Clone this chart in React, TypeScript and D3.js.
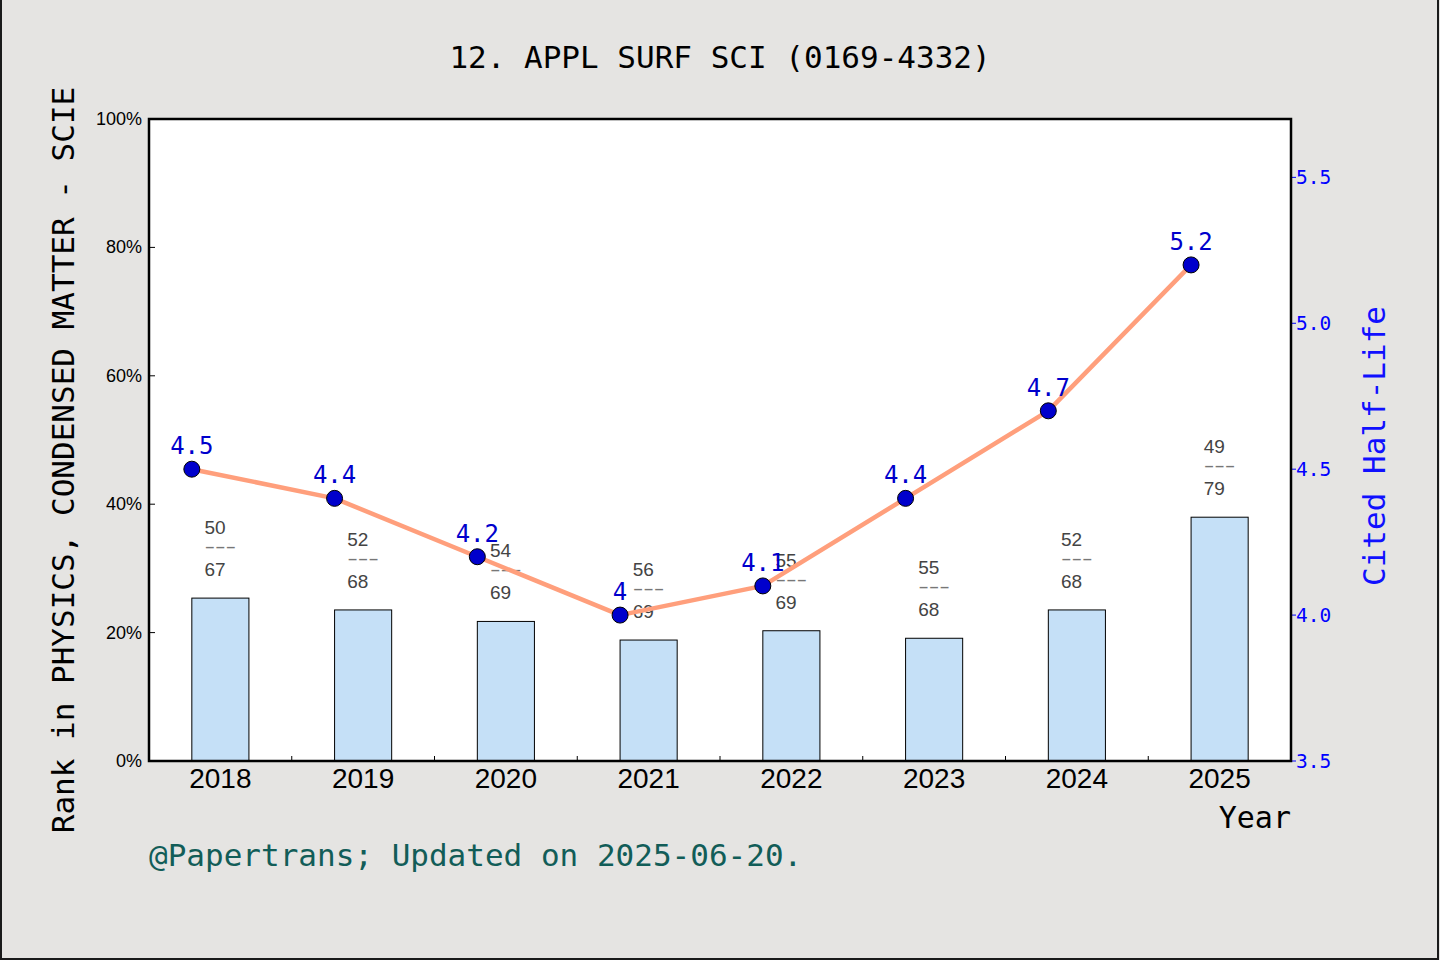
import { useEffect, useRef } from 'react'
import * as d3 from 'd3'

const years = ['2018', '2019', '2020', '2021', '2022', '2023', '2024', '2025']
const ranks = [50, 52, 54, 56, 55, 55, 52, 49]
const totals = [67, 68, 69, 69, 69, 68, 68, 79]
const halfLife = [4.5, 4.4, 4.2, 4.0, 4.1, 4.4, 4.7, 5.2]
const halfLifeLabels = ['4.5', '4.4', '4.2', '4', '4.1', '4.4', '4.7', '5.2']
const leftTicks = [0, 20, 40, 60, 80, 100]
const rightTicks = [3.5, 4.0, 4.5, 5.0, 5.5]

const W = 1440
const H = 960
const margin = { top: 119, right: 149, bottom: 199, left: 149 }

const MONO = '"DejaVu Sans Mono", monospace'
const SANS = '"Liberation Sans", Arial, sans-serif'

export default function App() {
  const svgRef = useRef<SVGSVGElement>(null)

  useEffect(() => {
    if (!svgRef.current) return
    const svg = d3.select(svgRef.current)
    svg.selectAll('*').remove()

    const innerW = W - margin.left - margin.right
    const innerH = H - margin.top - margin.bottom
    const x0 = margin.left
    const y0 = margin.top
    const x1 = x0 + innerW
    const y1 = y0 + innerH

    // figure background + outer frame
    svg.append('rect').attr('width', W).attr('height', H).attr('fill', '#e5e4e2')
    svg.append('path')
      .attr('d', `M1,0 V${H - 1} H${W - 2} V0`)
      .attr('fill', 'none')
      .attr('stroke', '#1a1a1a')
      .attr('stroke-width', 2)

    svg.append('rect')
      .attr('x', x0).attr('y', y0)
      .attr('width', innerW).attr('height', innerH)
      .attr('fill', '#ffffff')

    const xScale = d3.scaleBand().domain(years).range([x0, x1]).padding(0)
    const yLeft = d3.scaleLinear().domain([0, 100]).range([y1, y0])
    const yRight = d3.scaleLinear().domain([3.5, 5.7]).range([y1, y0])

    const barW = xScale.bandwidth() * 0.4
    const cx = (d: string) => (xScale(d) || 0) + xScale.bandwidth() / 2
    // line points sit on the left edge of each bar
    const lx = (d: string) => cx(d) - barW / 2

    const barData = years.map((year, i) => ({
      year,
      rank: ranks[i],
      total: totals[i],
      pct: ((totals[i] - ranks[i]) / totals[i]) * 100
    }))

    // bars
    svg.append('g')
      .selectAll('rect')
      .data(barData)
      .enter().append('rect')
      .attr('x', d => cx(d.year) - barW / 2)
      .attr('y', d => yLeft(d.pct))
      .attr('width', barW)
      .attr('height', d => y1 - yLeft(d.pct))
      .attr('fill', '#c5e0f7')
      .attr('stroke', '#000')
      .attr('stroke-width', 1)

    // rank / total labels above bars
    const rl = svg.append('g')
    barData.forEach(d => {
      const top = yLeft(d.pct)
      const tx = cx(d.year) - 16
      rl.append('text')
        .attr('x', tx).attr('y', top - 64)
        .style('font-family', SANS).style('font-size', '19px').style('fill', '#444')
        .text(String(d.rank))
      rl.append('text')
        .attr('transform', `translate(${tx},${top - 45}) scale(1.68,1)`)
        .style('font-family', SANS).style('font-size', '19px').style('fill', '#777')
        .text('---')
      rl.append('text')
        .attr('x', tx).attr('y', top - 22)
        .style('font-family', SANS).style('font-size', '19px').style('fill', '#444')
        .text(String(d.total))
    })

    // half-life line
    const pts = years.map((year, i) => ({ year, v: halfLife[i], label: halfLifeLabels[i] }))
    const line = d3.line<{ year: string; v: number }>()
      .x(d => lx(d.year))
      .y(d => yRight(d.v))
    svg.append('path')
      .datum(pts)
      .attr('d', line)
      .attr('fill', 'none')
      .attr('stroke', '#ff9f7c')
      .attr('stroke-width', 4.5)
      .attr('stroke-linejoin', 'round')

    svg.append('g')
      .selectAll('circle')
      .data(pts)
      .enter().append('circle')
      .attr('cx', d => lx(d.year))
      .attr('cy', d => yRight(d.v))
      .attr('r', 8)
      .attr('fill', '#0000cc')
      .attr('stroke', '#000')
      .attr('stroke-width', 1)

    svg.append('g')
      .selectAll('text')
      .data(pts)
      .enter().append('text')
      .attr('x', d => lx(d.year))
      .attr('y', d => yRight(d.v) - 15)
      .attr('text-anchor', 'middle')
      .style('font-family', MONO)
      .style('font-size', '24px')
      .style('fill', '#0000cc')
      .text(d => d.label)

    // left axis ticks + labels
    const la = svg.append('g')
    leftTicks.forEach(t => {
      la.append('line')
        .attr('x1', x0).attr('x2', x0 + 6)
        .attr('y1', yLeft(t)).attr('y2', yLeft(t))
        .attr('stroke', '#000').attr('stroke-width', 1)
      la.append('text')
        .attr('x', x0 - 7).attr('y', yLeft(t) + 6)
        .attr('text-anchor', 'end')
        .style('font-family', SANS).style('font-size', '18px').style('fill', '#000')
        .text(`${t}%`)
    })

    // right axis ticks + labels
    const ra = svg.append('g')
    rightTicks.forEach(t => {
      ra.append('line')
        .attr('x1', x1).attr('x2', x1 + 5)
        .attr('y1', yRight(t)).attr('y2', yRight(t))
        .attr('stroke', '#0000ff').attr('stroke-width', 1)
      ra.append('text')
        .attr('x', x1 + 5).attr('y', yRight(t) + 7)
        .style('font-family', MONO).style('font-size', '19.5px').style('fill', '#0000ff')
        .text(t.toFixed(1))
    })

    // x axis: minor ticks at band edges, year labels
    const xa = svg.append('g')
    years.slice(1).forEach(y => {
      const bx = xScale(y) || 0
      xa.append('line')
        .attr('x1', bx).attr('x2', bx)
        .attr('y1', y1).attr('y2', y1 - 5)
        .attr('stroke', '#000').attr('stroke-width', 1)
    })
    years.forEach(y => {
      xa.append('text')
        .attr('x', cx(y)).attr('y', y1 + 27)
        .attr('text-anchor', 'middle')
        .style('font-family', SANS).style('font-size', '28px').style('fill', '#000')
        .text(y)
    })

    // spines
    svg.append('rect')
      .attr('x', x0).attr('y', y0)
      .attr('width', innerW).attr('height', innerH)
      .attr('fill', 'none')
      .attr('stroke', '#000')
      .attr('stroke-width', 2.5)

    // titles
    svg.append('text')
      .attr('x', W / 2).attr('y', 68)
      .attr('text-anchor', 'middle')
      .style('font-family', MONO).style('font-size', '31px').style('fill', '#000')
      .text('12. APPL SURF SCI (0169-4332)')

    svg.append('text')
      .attr('transform', `translate(74,${(y0 + y1) / 2 + 20}) rotate(-90)`)
      .attr('text-anchor', 'middle')
      .style('font-family', MONO).style('font-size', '31px').style('fill', '#000')
      .text('Rank in PHYSICS, CONDENSED MATTER - SCIE')

    svg.append('text')
      .attr('transform', `translate(1385,${(y0 + y1) / 2 + 6}) rotate(-90)`)
      .attr('text-anchor', 'middle')
      .style('font-family', MONO).style('font-size', '31px').style('fill', '#1010ff')
      .text('Cited Half-Life')

    svg.append('text')
      .attr('x', x1).attr('y', 828)
      .attr('text-anchor', 'end')
      .style('font-family', MONO).style('font-size', '30px').style('fill', '#000')
      .text('Year')

    svg.append('text')
      .attr('x', 149).attr('y', 866)
      .style('font-family', MONO).style('font-size', '31px').style('fill', '#125d58')
      .text('@Papertrans; Updated on 2025-06-20.')
  }, [])

  return (
    <svg
      ref={svgRef}
      width={W}
      height={H}
      style={{ position: 'absolute', left: 0, top: 0, display: 'block' }}
    />
  )
}
